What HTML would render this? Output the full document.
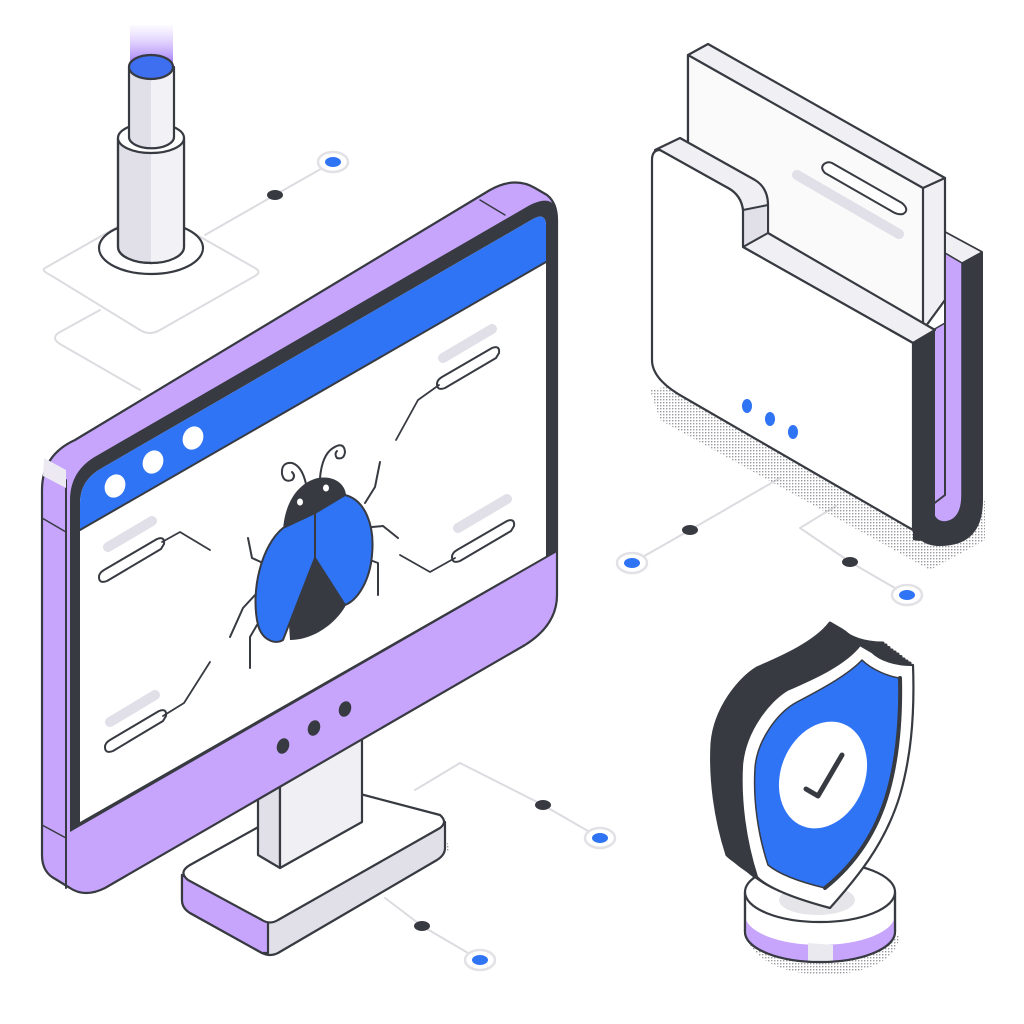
<!DOCTYPE html>
<html><head><meta charset="utf-8"><style>html,body{margin:0;padding:0;background:#fff}svg{display:block}</style></head>
<body>
<svg width="1024" height="1024" viewBox="0 0 1024 1024" xmlns="http://www.w3.org/2000/svg">
<defs>
<pattern id="dots" width="3" height="3" patternUnits="userSpaceOnUse"><rect width="1.4" height="1.4" fill="#9a9aa0"/></pattern>
<linearGradient id="glow" x1="0" y1="1" x2="0" y2="0"><stop offset="0" stop-color="#8a5cf5" stop-opacity="0.9"/><stop offset="1" stop-color="#c7a5fd" stop-opacity="0.05"/></linearGradient>
<path id="sh" d="M742,765 C745,730 770,700 787,690 C810,680 845,665 860,645 L872,652 C880,660 895,665 913,665 C915,720 910,760 900,795 C885,845 855,880 830,908 C800,900 770,890 757,877 C745,840 740,800 742,765 Z"/>
</defs>
<g stroke-linecap="round" stroke-linejoin="round">

<!-- connectors -->
<g fill="none" stroke="#dcdbe0" stroke-width="2">
<polyline points="205,235 275,195 333,162"/>
<polyline points="780,478 690,530 632,563"/>
<polyline points="836,506 800,528 850,562 907,595"/>
<polyline points="415,790 460,763 543,805 600,838"/>
<polyline points="385,898 422,926 480,960"/>
<path d="M45,268 L140,214 Q150,208 160,214 L255,268 Q262,272 255,276 L160,330 Q150,336 140,330 L52,276 Q40,270 45,268 Z"/>
<path d="M100,310 L60,332 Q50,338 60,344 L140,390"/>
</g>
<g fill="#373a41"><ellipse cx="275" cy="195" rx="8" ry="5"/><ellipse cx="690" cy="530" rx="8" ry="5"/><ellipse cx="850" cy="562" rx="8" ry="5"/><ellipse cx="543" cy="805" rx="8" ry="5"/><ellipse cx="422" cy="926" rx="8" ry="5"/></g>
<g fill="#fff" stroke="#e2e1e6" stroke-width="2.5"><ellipse cx="333" cy="162" rx="15" ry="10"/><ellipse cx="632" cy="563" rx="15" ry="10"/><ellipse cx="907" cy="595" rx="15" ry="10"/><ellipse cx="600" cy="838" rx="15" ry="10"/><ellipse cx="480" cy="960" rx="15" ry="10"/></g>
<g fill="#2f74f5"><ellipse cx="333" cy="162" rx="8" ry="5"/><ellipse cx="632" cy="563" rx="8" ry="5"/><ellipse cx="907" cy="595" rx="8" ry="5"/><ellipse cx="600" cy="838" rx="8" ry="5"/><ellipse cx="480" cy="960" rx="8" ry="5"/></g>

<!-- lamp -->
<rect x="130" y="25" width="43" height="42" fill="url(#glow)"/>
<ellipse cx="151" cy="248" rx="52" ry="26" fill="#fff" stroke="#373a41" stroke-width="2.2"/>
<path d="M118,138 L118,247 A33,16 0 0 0 184,247 L184,138 Z" fill="#e1dfe7" stroke="#373a41" stroke-width="2.2"/>
<path d="M151,153 L151,263 A33,16 0 0 0 184,247 L184,138 Z" fill="#f2f1f5"/>
<path d="M118,138 L118,247 A33,16 0 0 0 184,247 L184,138" fill="none" stroke="#373a41" stroke-width="2.2"/>
<ellipse cx="151" cy="138" rx="33" ry="15" fill="#fff" stroke="#373a41" stroke-width="2.2"/>
<path d="M129,67 L129,137 A22,11 0 0 0 174,137 L174,67 Z" fill="#e1dfe7"/>
<path d="M151,78 L151,148 A22,11 0 0 0 174,137 L174,67 Z" fill="#f2f1f5"/>
<path d="M129,67 L129,137 A22,11 0 0 0 174,137 L174,67" fill="none" stroke="#373a41" stroke-width="2.2"/>
<ellipse cx="151" cy="67" rx="22" ry="12" fill="#3d6ff0" stroke="#373a41" stroke-width="2.2"/>

<!-- folder -->
<path d="M650,390 L660,420 L930,570 L985,540 L985,500 L700,380 Z" fill="url(#dots)"/>
<path d="M688,55 L708,44 L945,178 L945,300 L923,330 L688,200 Z" fill="#f0eff4" stroke="#373a41" stroke-width="2.2"/>
<path d="M688,55 L923,188 L923,335 L688,200 Z" fill="#fafafb" stroke="#373a41" stroke-width="2.2"/>
<path d="M923,188 L945,178" stroke="#373a41" stroke-width="2.2"/>
<line x1="797" y1="175" x2="899" y2="234" stroke="#e1dfe7" stroke-width="10"/>
<path d="M832,163 L902,203 Q910,210 903,214 Q898,215 893,212 L825,173 Q820,168 824,164 Q828,161 832,163 Z" fill="#fff" stroke="#373a41" stroke-width="2"/>
<path d="M945,232 L982,252 L982,500 Q982,545 940,545 Q915,545 913,520 L913,350 L945,330 Z" fill="#373a41" stroke="#373a41" stroke-width="2"/>
<path d="M945,232 L982,252 L962,263 L945,253 Z" fill="#f0eff4" stroke="#373a41" stroke-width="1.5"/>
<path d="M945,253 L962,263 L962,495 Q962,520 945,522 Q935,522 933,512 L933,330 L945,323 Z" fill="#c7a5fd" stroke="#373a41" stroke-width="1.5"/>
<path d="M945,232 L945,495 L932,505" fill="none" stroke="#373a41" stroke-width="2"/>
<path d="M655,150 L680,138 L755,180 Q768,188 768,205 L768,233 L935,330 L913,343 L743,247 L743,210 Q741,195 728,188 Z" fill="#f0eff4" stroke="#373a41" stroke-width="2.2"/>
<path d="M743,247 L743,210 L768,205 L768,233 Z" fill="#e1dfe7" stroke="#373a41" stroke-width="2"/>
<path d="M660,150 L728,188 Q741,195 743,210 L743,247 L913,343 L913,530 L685,398 Q652,380 652,360 L652,160 Q652,150 660,150 Z" fill="#fff" stroke="#373a41" stroke-width="2.2"/>
<path d="M913,343 L935,330 L935,520 Q935,545 913,540 Z" fill="#373a41"/>
<g fill="#2f74f5"><ellipse cx="747" cy="406" rx="5" ry="7"/><ellipse cx="770" cy="419" rx="5" ry="7"/><ellipse cx="793" cy="432" rx="5" ry="7"/></g>

<!-- monitor stand -->
<path d="M190,900 L275,950 L450,850 L440,820 Z" fill="url(#dots)"/>
<path d="M182,875 L182,900 Q182,908 190,913 L262,953 Q270,957 278,953 L437,860 Q445,855 445,848 L445,822 Z" fill="#e1dfe7" stroke="#373a41" stroke-width="2.2"/>
<path d="M182,875 L182,900 Q182,908 190,913 L262,953 L268,953 L268,920 Z" fill="#c7a5fd" stroke="#373a41" stroke-width="2.2"/>
<path d="M190,865 L325,790 Q335,785 345,790 L440,815 Q448,822 440,828 L278,920 Q270,925 262,920 L188,880 Q178,872 190,865 Z" fill="#fff" stroke="#373a41" stroke-width="2.2"/>
<path d="M258,760 L258,855 L280,868 L280,770 Z" fill="#e1dfe7" stroke="#373a41" stroke-width="2.2"/>
<path d="M280,770 L362,725 L362,822 L280,868 Z" fill="#f0eff4" stroke="#373a41" stroke-width="2.2"/>

<!-- monitor -->
<path d="M42,490 Q42,455 75,440 L490,190 Q515,176 535,188 L547,195 Q557,203 557,220 L557,595 Q557,625 525,645 L105,888 Q85,898 70,888 L52,877 Q42,870 42,855 Z" fill="#c7a5fd" stroke="#373a41" stroke-width="2.2"/>
<path d="M66,480 L66,888" stroke="#373a41" stroke-width="2"/>
<path d="M44,458 L66,470 L66,488 L43,476 Z" fill="#ece9f2"/>
<path d="M42,518 L66,532" stroke="#373a41" stroke-width="1.5"/>
<path d="M42,825 L66,838" stroke="#373a41" stroke-width="1.5"/>
<path d="M480,200 L505,215" stroke="#373a41" stroke-width="1.5"/>
<path d="M70,500 Q70,470 98,455 L530,205 Q557,192 557,218 L557,552 L70,832 Z" fill="#373a41"/>
<path d="M80,503 Q80,480 102,468 L533,219 Q546,212 546,226 L546,556 L80,822 Z" fill="#fff"/>
<path d="M80,503 Q80,480 102,468 L533,219 Q546,212 546,226 L546,262 L80,530 Z" fill="#2f74f5"/>
<path d="M80,530 L546,262" stroke="#373a41" stroke-width="2"/>
<g fill="#fff"><ellipse cx="115" cy="486" rx="10" ry="12" transform="rotate(25 115 486)"/><ellipse cx="153" cy="462" rx="10" ry="12" transform="rotate(25 153 462)"/><ellipse cx="193" cy="438" rx="10" ry="12" transform="rotate(25 193 438)"/></g>
<g fill="#373a41"><ellipse cx="283" cy="746" rx="6" ry="8" transform="rotate(20 283 746)"/><ellipse cx="314" cy="728" rx="6" ry="8" transform="rotate(20 314 728)"/><ellipse cx="345" cy="709" rx="6" ry="8" transform="rotate(20 345 709)"/></g>

<!-- screen labels -->
<g stroke="#e1dfe7" stroke-width="10"><line x1="108" y1="547" x2="152" y2="521"/><line x1="443" y1="358" x2="492" y2="329"/><line x1="458" y1="528" x2="507" y2="499"/><line x1="110" y1="722" x2="155" y2="695"/></g>
<g fill="#fff" stroke="#373a41" stroke-width="2">
<path d="M104,570 L157,539 Q165,536 164,544 L161,549 L107,581 Q99,584 99,577 Q99,573 104,570 Z"/>
<path d="M442,377 L492,348 Q500,345 499,353 L496,358 L445,388 Q437,391 437,384 Q437,380 442,377 Z"/>
<path d="M457,550 L507,521 Q515,518 514,526 L511,531 L460,561 Q452,564 452,557 Q452,553 457,550 Z"/>
<path d="M110,740 L159,711 Q167,708 166,716 L163,721 L113,751 Q105,754 105,747 Q105,743 110,740 Z"/>
</g>
<g fill="none" stroke="#373a41" stroke-width="1.8">
<polyline points="162,542 180,532 210,550"/>
<polyline points="439,385 418,400 396,440"/>
<polyline points="455,558 430,572 400,555"/>
<polyline points="163,716 184,703 210,662"/>
</g>

<!-- bug -->
<g fill="none" stroke="#373a41" stroke-width="2">
<polyline points="263,563 252,558 248,538"/>
<polyline points="255,595 243,608 230,637"/>
<polyline points="257,625 250,637 250,668"/>
<polyline points="365,503 375,487 380,462"/>
<polyline points="372,527 383,526 398,538"/>
<polyline points="370,560 378,563 378,595"/>
<path d="M306,484 Q302,466 292,463 Q281,462 282,474 Q284,483 292,480 Q296,476 292,472"/>
<path d="M320,478 Q322,455 333,448 Q344,441 345,452 Q344,460 337,458 Q334,454 337,451"/>
</g>
<path d="M283,530 C285,500 300,482 318,478 C336,475 346,486 346,496 L346,605 C335,625 312,640 290,640 Z" fill="#373a41"/>
<ellipse cx="300" cy="502" rx="3" ry="3.5" fill="#fff"/><ellipse cx="326" cy="488" rx="3" ry="3.5" fill="#fff"/>
<path d="M315,513 L283,528 C262,545 250,590 258,625 C262,640 275,645 283,640 L315,558 Z" fill="#2f74f5" stroke="#373a41" stroke-width="2"/>
<path d="M315,513 L345,495 C365,500 375,525 372,555 C370,580 358,600 345,605 L315,558 Z" fill="#2f74f5" stroke="#373a41" stroke-width="2"/>

<!-- shield pedestal -->
<path d="M745,935 Q760,975 830,975 Q895,970 900,935 Z" fill="url(#dots)"/>
<path d="M745,892 L745,932 A75,30 0 0 0 895,932 L895,892 Z" fill="#fff" stroke="#373a41" stroke-width="2.2"/>
<path d="M745,915 L745,932 A75,30 0 0 0 895,932 L895,915 A75,30 0 0 1 745,915 Z" fill="#c7a5fd"/>
<path d="M808,943 L833,945 L833,962 L808,961 Z" fill="#ebe9f0"/>
<path d="M745,892 L745,932 A75,30 0 0 0 895,932 L895,892" fill="none" stroke="#373a41" stroke-width="2.2"/>
<ellipse cx="820" cy="892" rx="75" ry="30" fill="#fff" stroke="#373a41" stroke-width="2.2"/>
<ellipse cx="817" cy="900" rx="38" ry="15" fill="#e6e5ea"/>

<!-- shield -->
<g fill="#373a41" stroke="#373a41" stroke-width="3">
<use href="#sh" transform="translate(-30,-22)"/>
<use href="#sh" transform="translate(-27,-20)"/>
<use href="#sh" transform="translate(-24,-17.5)"/>
<use href="#sh" transform="translate(-21,-15)"/>
<use href="#sh" transform="translate(-18,-13)"/>
<use href="#sh" transform="translate(-15,-11)"/>
<use href="#sh" transform="translate(-12,-8.5)"/>
<use href="#sh" transform="translate(-9,-6)"/>
<use href="#sh" transform="translate(-6,-4)"/>
<use href="#sh" transform="translate(-3,-2)"/>
</g>
<use href="#sh" fill="#fff" stroke="#373a41" stroke-width="2.2"/>
<path d="M755,768 C757,740 778,712 797,702 C820,690 848,675 862,660 C872,670 890,677 900,678 C901,720 897,760 888,792 C875,838 850,868 825,888 C800,882 780,875 768,865 C758,835 753,800 755,768 Z" fill="#2f74f5" stroke="#373a41" stroke-width="1.5"/>
<path d="M900,678 C901,720 897,760 888,792 C875,838 850,868 825,888" fill="none" stroke="#373a41" stroke-width="4"/>
<ellipse cx="823" cy="775" rx="42" ry="55" transform="rotate(22 823 775)" fill="#fff"/>
<polyline points="806,789 818,796 842,755" fill="none" stroke="#373a41" stroke-width="5"/>
</g>
</svg>
</body></html>
